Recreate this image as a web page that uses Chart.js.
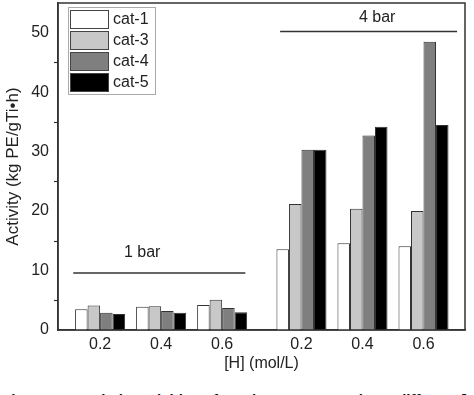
<!DOCTYPE html>
<html>
<head>
<meta charset="utf-8">
<script src="https://cdn.jsdelivr.net/npm/chart.js@4.4.1/dist/chart.umd.min.js"></script>
<style>
  html, body { margin: 0; padding: 0; background: #fff; overflow: hidden; }
  #wrap { position: absolute; left: 0; top: 0; width: 474px; height: 375px; }
  #caption { position: absolute; left: 2px; top: 391px; white-space: nowrap;
             font: bold 15px "Liberation Sans", Arial, sans-serif; color: #111; }
</style>
</head>
<body>
<div id="wrap"><canvas id="grafica"></canvas></div>
<div id="caption">Figure 1. Catalytic activities of catalysts 1, 3, 4 and 5 at different [H]</div>
<script>
// Etiquetas del eje x: [H] en mol/L, dos bloques de presión (1 bar y 4 bar)
const etiquetasH = ['0.2', '0.4', '0.6', '0.2', '0.4', '0.6'];
// Posición de cada grupo en el eje (hueco entre 1 bar y 4 bar)
const posGrupos = [1, 2, 3, 4.3, 5.3, 6.3];

const catalizadores = ['cat-1', 'cat-3', 'cat-4', 'cat-5'];

// Actividad (kg PE/gTi·h)
const actCat1 = [3.5, 3.9, 4.2, 13.6, 14.6, 14.1];
const actCat3 = [4.1, 4.0, 5.1, 21.2, 20.4, 20.0];
const actCat4 = [2.9, 3.2, 3.7, 30.3, 32.7, 48.5];
const actCat5 = [2.7, 2.9, 3.0, 30.3, 34.2, 34.5];

const ticksY = [0, 10, 20, 30, 40, 50];
const ticksMenoresY = [5, 15, 25, 35, 45];

// Anotaciones de presión (en coordenadas de datos)
const lineasPresion = [
    { texto: '1 bar', x1: 0.56, x2: 3.38, y: 9.6, tx: 1.69, ty: 13.1 },
    { texto: '4 bar', x1: 3.95, x2: 6.85, y: 50.2, tx: 5.54, ty: 52.5 }
];

const colores = ['#ffffff', '#c8c8c8', '#7f7f7f', '#000000'];
const series = [actCat1, actCat3, actCat4, actCat5];
const FUENTE = '"Liberation Sans", Arial, sans-serif';
const TEXTO = '#222';

const datasets = catalizadores.map((nombre, i) => ({
    label: nombre,
    data: series[i].map((v, j) => ({ x: posGrupos[j], y: v })),
    backgroundColor: colores[i],
    borderColor: '#333',
    borderWidth: 1,
    borderSkipped: 'bottom',
    categoryPercentage: 0.82,
    barPercentage: 1
}));

// Marco, marcas menores, leyenda interna y anotaciones
const extras = {
    id: 'extras',
    afterDatasetsDraw(chart) {
        const { ctx, chartArea: a, scales: { x, y } } = chart;
        ctx.save();

        // marcas menores del eje y
        ctx.strokeStyle = '#333';
        ctx.lineWidth = 1.2;
        ticksMenoresY.forEach(v => {
            const py = Math.round(y.getPixelForValue(v)) + 0.5;
            ctx.beginPath();
            ctx.moveTo(a.left - 4, py);
            ctx.lineTo(a.left, py);
            ctx.stroke();
        });

        // marco completo
        ctx.lineWidth = 1.5;
        ctx.strokeRect(a.left, a.top, a.right - a.left, a.bottom - a.top);

        // líneas de presión
        ctx.lineWidth = 1.5;
        ctx.font = '16px ' + FUENTE;
        ctx.fillStyle = TEXTO;
        ctx.textAlign = 'center';
        ctx.textBaseline = 'middle';
        lineasPresion.forEach(l => {
            const py = y.getPixelForValue(l.y);
            ctx.beginPath();
            ctx.moveTo(x.getPixelForValue(l.x1), py);
            ctx.lineTo(x.getPixelForValue(l.x2), py);
            ctx.stroke();
            ctx.fillText(l.texto, x.getPixelForValue(l.tx), y.getPixelForValue(l.ty));
        });

        // leyenda dentro del área
        const lx = a.left + 10, ly = a.top + 4;
        ctx.fillStyle = '#fff';
        ctx.fillRect(lx, ly, 87, 87);
        ctx.strokeStyle = '#aaa';
        ctx.lineWidth = 1;
        ctx.strokeRect(lx + 0.5, ly + 0.5, 87, 87);
        ctx.textAlign = 'left';
        chart.data.datasets.forEach((ds, i) => {
            const sy = ly + 3 + i * 21;
            ctx.fillStyle = ds.backgroundColor;
            ctx.fillRect(lx + 2, sy, 38, 18);
            ctx.strokeStyle = '#444';
            ctx.strokeRect(lx + 2.5, sy + 0.5, 38, 18);
            ctx.fillStyle = TEXTO;
            ctx.fillText(ds.label, lx + 45, sy + 10);
        });

        ctx.restore();
    }
};

new Chart(document.getElementById('grafica'), {
    type: 'bar',
    data: { datasets },
    options: {
        responsive: true,
        maintainAspectRatio: false,
        animation: false,
        layout: { padding: { top: 3, right: 9, left: 0, bottom: 0 } },
        plugins: { legend: { display: false }, tooltip: { enabled: false } },
        scales: {
            x: {
                type: 'linear',
                min: 0.31,
                max: 6.98,
                offset: false,
                grid: { display: false, offset: false, drawTicks: false },
                border: { display: true, color: '#333', width: 1.5 },
                afterBuildTicks: s => { s.ticks = posGrupos.map(v => ({ value: v })); },
                afterFit: s => { s.height = 45; s.paddingLeft = 0; s.paddingRight = 0; },
                ticks: {
                    padding: 5,
                    color: TEXTO,
                    font: { family: FUENTE, size: 16 },
                    callback: (v) => etiquetasH[posGrupos.indexOf(v)] ?? ''
                },
                title: {
                    display: true,
                    text: '[H] (mol/L)',
                    color: TEXTO,
                    font: { family: FUENTE, size: 16 },
                    padding: { top: 0, bottom: 2 }
                }
            },
            y: {
                min: 0,
                max: 55,
                grid: { display: false, drawOnChartArea: false, drawTicks: true, tickLength: 7, tickColor: '#333', tickWidth: 1.2 },
                border: { display: true, color: '#333', width: 1.5 },
                afterBuildTicks: s => { s.ticks = ticksY.map(v => ({ value: v })); },
                afterFit: s => { s.width = 58; s.paddingTop = 0; s.paddingBottom = 0; },
                ticks: {
                    padding: 2,
                    color: TEXTO,
                    font: { family: FUENTE, size: 16 }
                },
                title: {
                    display: true,
                    text: 'Activity (kg PE/gTi•h)',
                    color: TEXTO,
                    font: { family: FUENTE, size: 17 },
                    padding: { top: 3, bottom: 0 }
                }
            }
        }
    },
    plugins: [extras]
});
</script>
</body>
</html>
